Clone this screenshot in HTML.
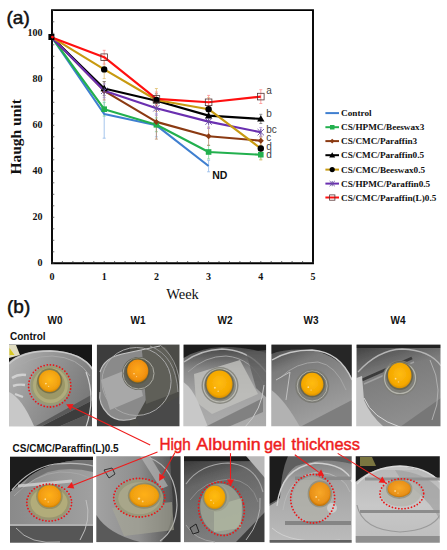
<!DOCTYPE html>
<html><head><meta charset="utf-8">
<style>
html,body{margin:0;padding:0;background:#fff;}
body{width:447px;height:550px;position:relative;overflow:hidden;}
svg text{font-family:"Liberation Serif",serif;}
.tl{font-family:"Liberation Serif",serif;font-weight:bold;font-size:10px;fill:#111;}
.lg{font-family:"Liberation Serif",serif;font-weight:bold;font-size:9.2px;fill:#111;}
.wk{font-family:"Liberation Serif",serif;font-size:14.5px;fill:#111;}
.hu{font-family:"Liberation Serif",serif;font-weight:bold;font-size:15.5px;fill:#111;}
.lt{font-family:"Liberation Sans",sans-serif;font-size:10px;fill:#404040;}
.nd{font-family:"Liberation Sans",sans-serif;font-weight:bold;font-size:10.5px;fill:#111;}
.pl{font-family:"Liberation Sans",sans-serif;font-size:19px;fill:#111;stroke:#111;stroke-width:0.5px;}
.abs{position:absolute;}
.hd{font-family:"Liberation Sans",sans-serif;font-weight:bold;font-size:10px;fill:#111;}
.ha{font-family:"Liberation Sans",sans-serif;font-size:16.5px;fill:#ee1c1c;stroke:#ee1c1c;stroke-width:0.45px;}
</style></head><body>
<svg class="abs" style="left:0;top:0" width="447" height="300" viewBox="0 0 447 300">
<path d="M52 10.1H313V263.3H52Z" fill="none" stroke="#000" stroke-width="1.9"/>
<path d="M52 263.3h2.3" stroke="#333" stroke-width="0.7"/>
<path d="M52 251.8h2.3" stroke="#333" stroke-width="0.7"/>
<path d="M52 240.3h2.3" stroke="#333" stroke-width="0.7"/>
<path d="M52 228.8h2.3" stroke="#333" stroke-width="0.7"/>
<path d="M52 217.3h2.3" stroke="#333" stroke-width="0.7"/>
<path d="M52 205.8h2.3" stroke="#333" stroke-width="0.7"/>
<path d="M52 194.3h2.3" stroke="#333" stroke-width="0.7"/>
<path d="M52 182.8h2.3" stroke="#333" stroke-width="0.7"/>
<path d="M52 171.3h2.3" stroke="#333" stroke-width="0.7"/>
<path d="M52 159.8h2.3" stroke="#333" stroke-width="0.7"/>
<path d="M52 148.3h2.3" stroke="#333" stroke-width="0.7"/>
<path d="M52 136.8h2.3" stroke="#333" stroke-width="0.7"/>
<path d="M52 125.3h2.3" stroke="#333" stroke-width="0.7"/>
<path d="M52 113.8h2.3" stroke="#333" stroke-width="0.7"/>
<path d="M52 102.3h2.3" stroke="#333" stroke-width="0.7"/>
<path d="M52 90.8h2.3" stroke="#333" stroke-width="0.7"/>
<path d="M52 79.3h2.3" stroke="#333" stroke-width="0.7"/>
<path d="M52 67.8h2.3" stroke="#333" stroke-width="0.7"/>
<path d="M52 56.3h2.3" stroke="#333" stroke-width="0.7"/>
<path d="M52 44.8h2.3" stroke="#333" stroke-width="0.7"/>
<path d="M52 33.3h2.3" stroke="#333" stroke-width="0.7"/>
<path d="M52 21.8h2.3" stroke="#333" stroke-width="0.7"/>
<path d="M52 10.3h2.3" stroke="#333" stroke-width="0.7"/>
<path d="M52.0 263.3v-2.3" stroke="#333" stroke-width="0.7"/>
<path d="M62.4 263.3v-2.3" stroke="#333" stroke-width="0.7"/>
<path d="M72.9 263.3v-2.3" stroke="#333" stroke-width="0.7"/>
<path d="M83.3 263.3v-2.3" stroke="#333" stroke-width="0.7"/>
<path d="M93.8 263.3v-2.3" stroke="#333" stroke-width="0.7"/>
<path d="M104.2 263.3v-2.3" stroke="#333" stroke-width="0.7"/>
<path d="M114.6 263.3v-2.3" stroke="#333" stroke-width="0.7"/>
<path d="M125.1 263.3v-2.3" stroke="#333" stroke-width="0.7"/>
<path d="M135.5 263.3v-2.3" stroke="#333" stroke-width="0.7"/>
<path d="M146.0 263.3v-2.3" stroke="#333" stroke-width="0.7"/>
<path d="M156.4 263.3v-2.3" stroke="#333" stroke-width="0.7"/>
<path d="M166.8 263.3v-2.3" stroke="#333" stroke-width="0.7"/>
<path d="M177.3 263.3v-2.3" stroke="#333" stroke-width="0.7"/>
<path d="M187.7 263.3v-2.3" stroke="#333" stroke-width="0.7"/>
<path d="M198.2 263.3v-2.3" stroke="#333" stroke-width="0.7"/>
<path d="M208.6 263.3v-2.3" stroke="#333" stroke-width="0.7"/>
<path d="M219.0 263.3v-2.3" stroke="#333" stroke-width="0.7"/>
<path d="M229.5 263.3v-2.3" stroke="#333" stroke-width="0.7"/>
<path d="M239.9 263.3v-2.3" stroke="#333" stroke-width="0.7"/>
<path d="M250.4 263.3v-2.3" stroke="#333" stroke-width="0.7"/>
<path d="M260.8 263.3v-2.3" stroke="#333" stroke-width="0.7"/>
<path d="M271.2 263.3v-2.3" stroke="#333" stroke-width="0.7"/>
<path d="M281.7 263.3v-2.3" stroke="#333" stroke-width="0.7"/>
<path d="M292.1 263.3v-2.3" stroke="#333" stroke-width="0.7"/>
<path d="M302.6 263.3v-2.3" stroke="#333" stroke-width="0.7"/>
<path d="M313.0 263.3v-2.3" stroke="#333" stroke-width="0.7"/>
<text x="42.4" y="266.1" text-anchor="end" class="tl">0</text>
<text x="42.4" y="220.1" text-anchor="end" class="tl">20</text>
<text x="42.4" y="174.1" text-anchor="end" class="tl">40</text>
<text x="42.4" y="128.1" text-anchor="end" class="tl">60</text>
<text x="42.4" y="82.1" text-anchor="end" class="tl">80</text>
<text x="42.4" y="36.1" text-anchor="end" class="tl">100</text>
<text x="52.0" y="279.6" text-anchor="middle" class="tl">0</text>
<text x="104.2" y="279.6" text-anchor="middle" class="tl">1</text>
<text x="156.4" y="279.6" text-anchor="middle" class="tl">2</text>
<text x="208.6" y="279.6" text-anchor="middle" class="tl">3</text>
<text x="260.8" y="279.6" text-anchor="middle" class="tl">4</text>
<text x="313.0" y="279.6" text-anchor="middle" class="tl">5</text>
<path d="M104.2 89.9V138.2M102.7 89.9h3M102.7 138.2h3" stroke="#8fb8e8" stroke-width="0.8" fill="none"/>
<path d="M156.4 113.8V136.8M154.9 113.8h3M154.9 136.8h3" stroke="#8fb8e8" stroke-width="0.8" fill="none"/>
<path d="M208.6 160.3V171.8M207.1 160.3h3M207.1 171.8h3" stroke="#8fb8e8" stroke-width="0.8" fill="none"/>
<path d="M104.2 102.3V116.1M102.7 102.3h3M102.7 116.1h3" stroke="#7fd39a" stroke-width="0.8" fill="none"/>
<path d="M156.4 117.9V131.7M154.9 117.9h3M154.9 131.7h3" stroke="#7fd39a" stroke-width="0.8" fill="none"/>
<path d="M208.6 145.1V158.9M207.1 145.1h3M207.1 158.9h3" stroke="#7fd39a" stroke-width="0.8" fill="none"/>
<path d="M260.8 150.1V159.3M259.3 150.1h3M259.3 159.3h3" stroke="#7fd39a" stroke-width="0.8" fill="none"/>
<path d="M104.2 81.6V100.0M102.7 81.6h3M102.7 100.0h3" stroke="#b98a6a" stroke-width="0.8" fill="none"/>
<path d="M156.4 104.6V139.1M154.9 104.6h3M154.9 139.1h3" stroke="#b98a6a" stroke-width="0.8" fill="none"/>
<path d="M208.6 127.1V145.5M207.1 127.1h3M207.1 145.5h3" stroke="#b98a6a" stroke-width="0.8" fill="none"/>
<path d="M260.8 136.1V145.3M259.3 136.1h3M259.3 145.3h3" stroke="#b98a6a" stroke-width="0.8" fill="none"/>
<path d="M104.2 81.6V95.4M102.7 81.6h3M102.7 95.4h3" stroke="#777777" stroke-width="0.8" fill="none"/>
<path d="M156.4 93.8V107.6M154.9 93.8h3M154.9 107.6h3" stroke="#777777" stroke-width="0.8" fill="none"/>
<path d="M208.6 108.7V122.5M207.1 108.7h3M207.1 122.5h3" stroke="#777777" stroke-width="0.8" fill="none"/>
<path d="M260.8 114.3V123.5M259.3 114.3h3M259.3 123.5h3" stroke="#777777" stroke-width="0.8" fill="none"/>
<path d="M104.2 60.2V78.6M102.7 60.2h3M102.7 78.6h3" stroke="#e0c070" stroke-width="0.8" fill="none"/>
<path d="M156.4 88.5V111.5M154.9 88.5h3M154.9 111.5h3" stroke="#e0c070" stroke-width="0.8" fill="none"/>
<path d="M208.6 97.7V120.7M207.1 97.7h3M207.1 120.7h3" stroke="#e0c070" stroke-width="0.8" fill="none"/>
<path d="M260.8 137.0V160.0M259.3 137.0h3M259.3 160.0h3" stroke="#e0c070" stroke-width="0.8" fill="none"/>
<path d="M104.2 83.9V97.7M102.7 83.9h3M102.7 97.7h3" stroke="#a98ad0" stroke-width="0.8" fill="none"/>
<path d="M156.4 101.4V115.2M154.9 101.4h3M154.9 115.2h3" stroke="#a98ad0" stroke-width="0.8" fill="none"/>
<path d="M208.6 114.7V128.5M207.1 114.7h3M207.1 128.5h3" stroke="#a98ad0" stroke-width="0.8" fill="none"/>
<path d="M260.8 127.6V136.8M259.3 127.6h3M259.3 136.8h3" stroke="#a98ad0" stroke-width="0.8" fill="none"/>
<path d="M104.2 50.3V64.1M102.7 50.3h3M102.7 64.1h3" stroke="#ff9090" stroke-width="0.8" fill="none"/>
<path d="M156.4 92.0V105.8M154.9 92.0h3M154.9 105.8h3" stroke="#ff9090" stroke-width="0.8" fill="none"/>
<path d="M208.6 95.4V109.2M207.1 95.4h3M207.1 109.2h3" stroke="#ff9090" stroke-width="0.8" fill="none"/>
<path d="M260.8 89.7V103.5M259.3 89.7h3M259.3 103.5h3" stroke="#ff9090" stroke-width="0.8" fill="none"/>
<polyline points="52.0,37.4 104.2,114.0 156.4,125.3 208.6,166.0" fill="none" stroke="#3f7fd0" stroke-width="2.15" stroke-linejoin="round"/>
<polyline points="52.0,37.4 104.2,109.2 156.4,124.8 208.6,152.0 260.8,154.7" fill="none" stroke="#22b04e" stroke-width="2.15" stroke-linejoin="round"/>
<polyline points="52.0,37.4 104.2,90.8 156.4,121.9 208.6,136.3 260.8,140.7" fill="none" stroke="#8b3a12" stroke-width="2.15" stroke-linejoin="round"/>
<polyline points="52.0,37.4 104.2,88.5 156.4,100.7 208.6,115.6 260.8,118.9" fill="none" stroke="#000000" stroke-width="2.15" stroke-linejoin="round"/>
<polyline points="52.0,37.4 104.2,90.8 156.4,108.3 208.6,121.6 260.8,132.2" fill="none" stroke="#6a2fb0" stroke-width="2.15" stroke-linejoin="round"/>
<polyline points="52.0,37.4 104.2,69.4 156.4,100.0 208.6,109.2 260.8,148.5" fill="none" stroke="#c89a10" stroke-width="2.15" stroke-linejoin="round"/>
<polyline points="52.0,37.4 104.2,57.2 156.4,98.9 208.6,102.3 260.8,96.6" fill="none" stroke="#ff1010" stroke-width="2.15" stroke-linejoin="round"/>



<rect x="101.4" y="106.4" width="5.6" height="5.6" fill="#22b04e"/>
<rect x="153.6" y="122.0" width="5.6" height="5.6" fill="#22b04e"/>
<rect x="205.8" y="149.2" width="5.6" height="5.6" fill="#22b04e"/>
<rect x="258.0" y="151.9" width="5.6" height="5.6" fill="#22b04e"/>
<path d="M104.2 87.8L107.2 90.8L104.2 93.8L101.2 90.8Z" fill="#8b3a12"/>
<path d="M156.4 118.9L159.4 121.9L156.4 124.9L153.4 121.9Z" fill="#8b3a12"/>
<path d="M208.6 133.3L211.6 136.3L208.6 139.3L205.6 136.3Z" fill="#8b3a12"/>
<path d="M260.8 137.7L263.8 140.7L260.8 143.7L257.8 140.7Z" fill="#8b3a12"/>
<path d="M104.2 84.8L107.9 91.3L100.5 91.3Z" fill="#000000"/>
<path d="M156.4 97.0L160.1 103.5L152.7 103.5Z" fill="#000000"/>
<path d="M208.6 111.9L212.3 118.4L204.9 118.4Z" fill="#000000"/>
<path d="M260.8 115.2L264.5 121.6L257.1 121.6Z" fill="#000000"/>
<path d="M101.0 87.6L107.4 94.0M101.0 94.0L107.4 87.6M104.2 87.6L104.2 94.0" stroke="#6a50a0" stroke-width="0.9" fill="none"/>
<path d="M153.2 105.1L159.6 111.5M153.2 111.5L159.6 105.1M156.4 105.1L156.4 111.5" stroke="#6a50a0" stroke-width="0.9" fill="none"/>
<path d="M205.4 118.4L211.8 124.8M205.4 124.8L211.8 118.4M208.6 118.4L208.6 124.8" stroke="#6a50a0" stroke-width="0.9" fill="none"/>
<path d="M257.6 129.0L264.0 135.4M257.6 135.4L264.0 129.0M260.8 129.0L260.8 135.4" stroke="#6a50a0" stroke-width="0.9" fill="none"/>
<circle cx="104.2" cy="69.4" r="3.2" fill="#000"/>
<circle cx="156.4" cy="100.0" r="3.2" fill="#000"/>
<circle cx="208.6" cy="109.2" r="3.2" fill="#000"/>
<circle cx="260.8" cy="148.5" r="3.2" fill="#000"/>
<rect x="100.9" y="53.9" width="6.6" height="6.6" fill="none" stroke="#553333" stroke-width="0.8"/>
<rect x="153.1" y="95.6" width="6.6" height="6.6" fill="none" stroke="#553333" stroke-width="0.8"/>
<rect x="205.3" y="99.0" width="6.6" height="6.6" fill="none" stroke="#553333" stroke-width="0.8"/>
<rect x="257.5" y="93.3" width="6.6" height="6.6" fill="none" stroke="#553333" stroke-width="0.8"/>
<rect x="48.4" y="34" width="6" height="6" fill="#000"/>
<circle cx="52.4" cy="37.1" r="1.4" fill="#ff1010"/>
<text x="266.2" y="93.9" class="lt">a</text>
<text x="266.2" y="117.2" class="lt">b</text>
<text x="266.2" y="132.9" class="lt">bc</text>
<text x="266.2" y="141.2" class="lt">c</text>
<text x="266.2" y="149.9" class="lt">d</text>
<text x="266.2" y="157.7" class="lt">d</text>
<text x="212.2" y="179" class="nd">ND</text>
<text x="182.5" y="298.6" text-anchor="middle" class="wk">Week</text>
<text transform="translate(21.2 136.9) rotate(-90)" text-anchor="middle" class="hu">Haugh unit</text>
<text x="6.5" y="24" class="pl">(a)</text>
<path d="M325.4 113.1H339" stroke="#3f7fd0" stroke-width="2"/>
<text x="341.1" y="116.1" class="lg">Control</text>
<path d="M325.4 127.2H339" stroke="#22b04e" stroke-width="2"/>
<rect x="330.0" y="125.0" width="4.5" height="4.5" fill="#22b04e"/>
<text x="341.1" y="130.2" class="lg">CS/HPMC/Beeswax3</text>
<path d="M325.4 141.1H339" stroke="#8b3a12" stroke-width="2"/>
<path d="M332.2 138.7L334.6 141.1L332.2 143.5L329.8 141.1Z" fill="#8b3a12"/>
<text x="341.1" y="144.1" class="lg">CS/CMC/Paraffin3</text>
<path d="M325.4 155.2H339" stroke="#000000" stroke-width="2"/>
<path d="M332.2 152.2L335.2 157.4L329.2 157.4Z" fill="#000000"/>
<text x="341.1" y="158.2" class="lg">CS/CMC/Paraffin0.5</text>
<path d="M325.4 169.6H339" stroke="#c89a10" stroke-width="2"/>
<circle cx="332.2" cy="169.6" r="2.6" fill="#000"/>
<text x="341.1" y="172.6" class="lg">CS/CMC/Beeswax0.5</text>
<path d="M325.4 183.6H339" stroke="#6a2fb0" stroke-width="2"/>
<path d="M329.6 181.0L334.8 186.2M329.6 186.2L334.8 181.0M332.2 181.0L332.2 186.2" stroke="#6a50a0" stroke-width="0.9" fill="none"/>
<text x="341.1" y="186.6" class="lg">CS/HPMC/Paraffin0.5</text>
<path d="M325.4 197.5H339" stroke="#ff1010" stroke-width="2"/>
<rect x="329.6" y="194.9" width="5.3" height="5.3" fill="none" stroke="#553333" stroke-width="0.8"/>
<text x="341.1" y="200.5" class="lg">CS/CMC/Paraffin(L)0.5</text>
</svg>
<svg class="abs" style="left:0;top:300px" width="447" height="250" viewBox="0 300 447 250"><filter id="soft" x="-5%" y="-5%" width="110%" height="110%"><feGaussianBlur stdDeviation="0.7"/></filter><clipPath id="ct1"><rect x="9" y="344.4" width="83.0" height="81.8"/></clipPath><g clip-path="url(#ct1)"><g filter="url(#soft)"><rect x="9" y="344.4" width="84" height="83" fill="#8c8c8c"/><linearGradient id="g1" x1="0" y1="0" x2="1" y2="0.5"><stop offset="0" stop-color="#b4b4b4"/><stop offset="0.5" stop-color="#959595"/><stop offset="1" stop-color="#7a7a7a"/></linearGradient><rect x="9" y="344.4" width="84" height="83" fill="url(#g1)"/><path d="M9 344.4H93V368Q82 352 50 350Q22 350 9 362Z" fill="#141414"/><path d="M9 364Q22 351 50 351Q82 352 93 370" stroke="#c8c8c8" stroke-width="1.5" fill="none"/><path d="M12 372Q28 356 52 356Q78 357 90 376" stroke="#a8a8a8" stroke-width="1" fill="none"/><path d="M9 345h7l4 10l-11 3z" fill="#e0dcc0"/><path d="M9.5 348l5 7h-5z" fill="#d8c820"/><path d="M9 392Q22 398 34 426H9Z" fill="#c8c8c8"/><path d="M12 378q6 -4 14 -3M13 386q6 -2 12 -1M15 394l8 3" stroke="#dcdcdc" stroke-width="2.4" fill="none" opacity="0.8"/><path d="M40 427L93 400V412L58 427Z" fill="#3e3e3e"/><path d="M34 427L93 394V400L40 427Z" fill="#5a5a5a"/><path d="M58 427L93 412V427Z" fill="#585858"/><path d="M86 372Q96 398 86 427" stroke="#d0d0d0" stroke-width="1.2" fill="none"/><circle cx="50.5" cy="385.5" r="20" fill="#9a9a74"/><circle cx="50.5" cy="385.5" r="17.5" fill="#b0ac7c"/><circle cx="50.5" cy="385" r="14.5" fill="#9c9868"/><radialGradient id="yt1" cx="0.5" cy="0.45" r="0.55"><stop offset="0" stop-color="#ffb818"/><stop offset="0.8" stop-color="#f0a010"/><stop offset="1" stop-color="#d88800"/></radialGradient><ellipse cx="49.7" cy="380.9" rx="12.6" ry="12.6" fill="#5a5430" opacity="0.55"/><ellipse cx="49.7" cy="380.9" rx="11" ry="11" fill="url(#yt1)"/><circle cx="45.9" cy="383.6" r="0.9" fill="#ffe8b0" opacity="0.8"/><circle cx="48.6" cy="386.4" r="0.7" fill="#ffe8b0" opacity="0.7"/></g></g><clipPath id="ct2"><rect x="96.7" y="344.4" width="82.8" height="81.8"/></clipPath><g clip-path="url(#ct2)"><g filter="url(#soft)"><rect x="96.7" y="344.4" width="84" height="83" fill="#3e3e3e"/><path d="M130 344.4H181V427H130Z" fill="#4c4c46"/><path d="M100 372Q104 358 122 354L142 350Q150 380 146 400L136 418Q118 424 108 414Q98 404 100 390Z" fill="#8a8a8a"/><path d="M101 380L136 366L143 396L110 410Z" fill="#a8a8a8"/><path d="M142 350L165 347Q176 360 178 392L146 404Z" fill="#5e5e58"/><path d="M100 372Q104 358 122 354L160 346" stroke="#c4c4c4" stroke-width="1.2" fill="none"/><path d="M136 418L180 396V427H140Z" fill="#484848"/><path d="M100 392Q98 404 108 414Q118 424 136 418" stroke="#c0c0c0" stroke-width="1.1" fill="none"/><ellipse cx="136.5" cy="381.5" rx="34.6" ry="34" fill="none" stroke="#a8a8a8" stroke-width="1"/><path d="M150 346Q176 356 178 392M160 345Q183 362 180 404" stroke="#9a9a9a" stroke-width="0.9" fill="none"/><circle cx="138.5" cy="373.5" r="16.5" fill="#62625a"/><circle cx="138.5" cy="373.5" r="15.5" fill="none" stroke="#aaaaa2" stroke-width="1"/><radialGradient id="yt2" cx="0.5" cy="0.45" r="0.55"><stop offset="0" stop-color="#ffa818"/><stop offset="0.8" stop-color="#f09010"/><stop offset="1" stop-color="#c87800"/></radialGradient><ellipse cx="137.7" cy="370.9" rx="12.2" ry="13.1" fill="#5a5430" opacity="0.55"/><ellipse cx="137.7" cy="370.9" rx="10.6" ry="11.5" fill="url(#yt2)"/><circle cx="134.0" cy="373.8" r="0.8" fill="#ffe8b0" opacity="0.8"/><circle cx="136.6" cy="376.6" r="0.6" fill="#ffe8b0" opacity="0.7"/></g></g><clipPath id="ct3"><rect x="183.4" y="344.4" width="82.7" height="81.8"/></clipPath><g clip-path="url(#ct3)"><g filter="url(#soft)"><rect x="183.4" y="344.4" width="84" height="83" fill="#9a9a9a"/><linearGradient id="g3" x1="0" y1="0" x2="0" y2="1"><stop offset="0.05" stop-color="#4a4a4a"/><stop offset="0.3" stop-color="#888888"/><stop offset="0.6" stop-color="#a4a4a4"/><stop offset="1" stop-color="#acacac"/></linearGradient><rect x="183.4" y="344.4" width="84" height="83" fill="url(#g3)"/><path d="M183.4 344.4H267V353Q240 346 222 347Q200 348 183.4 358Z" fill="#1e1e1e"/><path d="M184 362Q200 350 222 349Q250 350 266 372" stroke="#b8b8b8" stroke-width="1.4" fill="none"/><path d="M188 372Q205 356 226 356Q252 358 264 385" stroke="#a0a0a0" stroke-width="1" fill="none"/><path d="M246 352L267 350V398L256 388Z" fill="#5a5a5a" opacity="0.7"/><path d="M194 374L240 360L258 394L212 414L196 402Z" fill="#c2c2be" opacity="0.8"/><path d="M183.4 382Q192 388 198 402L208 427H183.4Z" fill="#c8c8c8"/><path d="M205 427L263 398V412L228 427Z" fill="#7c7c7c" opacity="0.9"/><path d="M245 427Q262 410 264 385" stroke="#c8c8c8" stroke-width="1" fill="none"/><circle cx="220" cy="385.5" r="18.5" fill="#8a8a82"/><circle cx="220" cy="385.5" r="16.5" fill="none" stroke="#bcbcb4" stroke-width="1.2"/><radialGradient id="yt3" cx="0.5" cy="0.45" r="0.55"><stop offset="0" stop-color="#ffbc10"/><stop offset="0.8" stop-color="#f5a800"/><stop offset="1" stop-color="#d89000"/></radialGradient><ellipse cx="219.5" cy="384.3" rx="14.6" ry="15.4" fill="#5a5430" opacity="0.55"/><ellipse cx="219.5" cy="384.3" rx="13" ry="13.8" fill="url(#yt3)"/><circle cx="214.9" cy="387.8" r="1.0" fill="#ffe8b0" opacity="0.8"/><circle cx="218.2" cy="391.2" r="0.8" fill="#ffe8b0" opacity="0.7"/></g></g><clipPath id="ct4"><rect x="271.3" y="344.4" width="80.5" height="81.8"/></clipPath><g clip-path="url(#ct4)"><g filter="url(#soft)"><rect x="271.3" y="344.4" width="81" height="83" fill="#888"/><linearGradient id="g4" x1="0" y1="0" x2="0.4" y2="1"><stop offset="0" stop-color="#404040"/><stop offset="0.3" stop-color="#7a7a7a"/><stop offset="0.7" stop-color="#909090"/><stop offset="1" stop-color="#a0a0a0"/></linearGradient><rect x="271.3" y="344.4" width="81" height="83" fill="url(#g4)"/><path d="M271.3 344.4H352V378Q340 356 312 350Q285 348 271.3 354Z" fill="#262626"/><path d="M272 360Q288 350 312 350Q340 352 352 380" stroke="#c8c8c8" stroke-width="1.4" fill="none"/><path d="M280 378Q296 362 318 362Q336 365 346 390" stroke="#a8a8a8" stroke-width="0.9" fill="none"/><path d="M271.3 390Q285 400 300 427H271.3Z" fill="#b2b2b2"/><path d="M300 427L352 400V427Z" fill="#7e7e7e"/><path d="M276 380L290 372L286 400" stroke="#c0c0c0" stroke-width="1" fill="none"/><circle cx="312.2" cy="386" r="17" fill="#7c7c76"/><circle cx="312.2" cy="386" r="15" fill="none" stroke="#b0b0a8" stroke-width="1"/><radialGradient id="yt4" cx="0.5" cy="0.45" r="0.55"><stop offset="0" stop-color="#ffbc10"/><stop offset="0.8" stop-color="#f5a800"/><stop offset="1" stop-color="#d89000"/></radialGradient><ellipse cx="312.2" cy="384.3" rx="12.8" ry="13.1" fill="#5a5430" opacity="0.55"/><ellipse cx="312.2" cy="384.3" rx="11.2" ry="11.5" fill="url(#yt4)"/><circle cx="308.3" cy="387.2" r="0.9" fill="#ffe8b0" opacity="0.8"/><circle cx="311.1" cy="390.1" r="0.7" fill="#ffe8b0" opacity="0.7"/></g></g><clipPath id="ct5"><rect x="356.4" y="344.4" width="84.1" height="81.8"/></clipPath><g clip-path="url(#ct5)"><g filter="url(#soft)"><rect x="356.4" y="344.4" width="85" height="83" fill="#8a8a8a"/><linearGradient id="g5" x1="0" y1="0" x2="0.3" y2="1"><stop offset="0" stop-color="#3e3e3e"/><stop offset="0.4" stop-color="#7c7c7c"/><stop offset="1" stop-color="#8e8e8e"/></linearGradient><rect x="356.4" y="344.4" width="85" height="83" fill="url(#g5)"/><path d="M356.4 344.4H441V348H356.4Z" fill="#222"/><path d="M358 372Q378 350 402 349Q430 350 441 366" stroke="#b4b4b4" stroke-width="1.3" fill="none"/><path d="M362 380L412 358" stroke="#3a3a3a" stroke-width="3" fill="none"/><path d="M364 384L414 362" stroke="#a0a0a0" stroke-width="1.5" fill="none"/><path d="M356.4 378L362 376L364 400Q370 415 384 427H356.4Z" fill="#c8c8c8"/><path d="M364 398Q372 418 400 427" stroke="#d8d8d8" stroke-width="1" fill="none"/><path d="M400 427L441 398V427Z" fill="#727272" opacity="0.8"/><path d="M430 360Q445 390 432 420" stroke="#b0b0b0" stroke-width="1" fill="none"/><circle cx="400" cy="378" r="17.5" fill="#7e7e78"/><circle cx="400" cy="378" r="15.5" fill="none" stroke="#b4b4ac" stroke-width="1.2"/><radialGradient id="yt5" cx="0.5" cy="0.45" r="0.55"><stop offset="0" stop-color="#ffbc10"/><stop offset="0.8" stop-color="#f5a800"/><stop offset="1" stop-color="#d89000"/></radialGradient><ellipse cx="399.7" cy="375.5" rx="13.4" ry="14.4" fill="#5a5430" opacity="0.55"/><ellipse cx="399.7" cy="375.5" rx="11.8" ry="12.8" fill="url(#yt5)"/><circle cx="395.6" cy="378.7" r="0.9" fill="#ffe8b0" opacity="0.8"/><circle cx="398.5" cy="381.9" r="0.7" fill="#ffe8b0" opacity="0.7"/></g></g><clipPath id="cb1"><rect x="10" y="456.4" width="83.0" height="86.3"/></clipPath><g clip-path="url(#cb1)"><g filter="url(#soft)"><rect x="10" y="456.4" width="83" height="86" fill="#969696"/><linearGradient id="h1" x1="0" y1="0" x2="1" y2="0"><stop offset="0" stop-color="#8a8a8a"/><stop offset="1" stop-color="#a0a0a0"/></linearGradient><rect x="10" y="470" width="83" height="56" fill="url(#h1)"/><path d="M10 456.4H93V460H80Q50 462 30 476Q18 486 10 492Z" fill="#1c1c1c"/><path d="M30 476Q50 462 80 460H93V472Q70 466 48 472Q30 480 18 492Z" fill="#6a6a6a" opacity="0.8"/><path d="M12 490Q30 468 55 464Q80 462 93 466" stroke="#b8b8b8" stroke-width="1.2" fill="none"/><path d="M14 496Q34 474 60 472Q82 472 92 480" stroke="#a8a8a8" stroke-width="0.9" fill="none"/><path d="M18 486L72 481" stroke="#d8d8d8" stroke-width="3" fill="none" opacity="0.75"/><rect x="10" y="524" width="83" height="2" fill="#b0b0b0"/><rect x="10" y="526" width="83" height="17" fill="#565656"/><path d="M16 528Q30 545 60 542" stroke="#b0b0b0" stroke-width="1" fill="none"/><path d="M86 500Q92 520 80 540" stroke="#c0c0c0" stroke-width="1" fill="none"/><ellipse cx="49" cy="502.6" rx="21" ry="17.5" fill="#9a9670"/><ellipse cx="49" cy="502.6" rx="18.5" ry="15" fill="#b2ac7a"/><radialGradient id="yb1" cx="0.5" cy="0.45" r="0.55"><stop offset="0" stop-color="#ffb018"/><stop offset="0.8" stop-color="#f09a10"/><stop offset="1" stop-color="#d08000"/></radialGradient><ellipse cx="49.4" cy="496.4" rx="13.3" ry="12.7" fill="#5a5430" opacity="0.3"/><ellipse cx="49.4" cy="496.4" rx="11.7" ry="11.1" fill="url(#yb1)"/><circle cx="45.3" cy="499.2" r="0.9" fill="#ffe8b0" opacity="0.8"/><circle cx="48.2" cy="501.9" r="0.7" fill="#ffe8b0" opacity="0.7"/></g></g><clipPath id="cb2"><rect x="96.2" y="456.3" width="84.4" height="86.4"/></clipPath><g clip-path="url(#cb2)"><g filter="url(#soft)"><rect x="96.3" y="456.1" width="85" height="86" fill="#8a8a8a"/><linearGradient id="h2" x1="0" y1="0" x2="1" y2="0"><stop offset="0" stop-color="#a2a2a2"/><stop offset="0.5" stop-color="#8e8e8e"/><stop offset="0.85" stop-color="#5e5e5e"/><stop offset="1" stop-color="#404040"/></linearGradient><rect x="96.3" y="456.1" width="85" height="86" fill="url(#h2)"/><path d="M140 456.1H150L168 486L161 489Z" fill="#c0c0c0" opacity="0.6"/><path d="M170 456.1H181V542H162Q176 520 172 490Z" fill="#3c3c3c"/><path d="M150 458Q176 468 177 505Q176 530 160 541" stroke="#b4b4b4" stroke-width="1.2" fill="none"/><path d="M96.3 515Q108 534 140 542H96.3Z" fill="#5a5a5a"/><path d="M112 508L172 502L174 530L124 536Z" fill="#a8a898" opacity="0.6"/><path d="M104 470l8 -2l3 6l-6 4z" fill="none" stroke="#333" stroke-width="1"/><ellipse cx="139.3" cy="498.3" rx="24" ry="19" fill="#98987c"/><ellipse cx="139.3" cy="498.3" rx="21" ry="16" fill="#a8a68a"/><radialGradient id="yb2" cx="0.5" cy="0.45" r="0.55"><stop offset="0" stop-color="#ffb018"/><stop offset="0.8" stop-color="#f0a010"/><stop offset="1" stop-color="#d08000"/></radialGradient><ellipse cx="144.2" cy="495.7" rx="16.4" ry="13.0" fill="#5a5430" opacity="0.3"/><ellipse cx="144.2" cy="495.7" rx="14.8" ry="11.4" fill="url(#yb2)"/><circle cx="139.0" cy="498.6" r="1.2" fill="#ffe8b0" opacity="0.8"/><circle cx="142.7" cy="501.4" r="0.9" fill="#ffe8b0" opacity="0.7"/></g></g><clipPath id="cb3"><rect x="184" y="456.3" width="80.5" height="86.4"/></clipPath><g clip-path="url(#cb3)"><g filter="url(#soft)"><rect x="184" y="456.1" width="81" height="86" fill="#707070"/><linearGradient id="h3" x1="0" y1="0" x2="0.3" y2="1"><stop offset="0" stop-color="#333"/><stop offset="0.35" stop-color="#666"/><stop offset="1" stop-color="#7e7e7e"/></linearGradient><rect x="184" y="456.1" width="81" height="86" fill="url(#h3)"/><rect x="184" y="456.1" width="81" height="5" fill="#1a1a1a"/><path d="M246 456.1H265V478Z" fill="#b8b8b8"/><path d="M186 484Q200 464 228 463Q256 465 263 492" stroke="#a4a4a4" stroke-width="1.2" fill="none"/><path d="M190 500Q204 480 230 479Q252 481 258 502" stroke="#8c8c8c" stroke-width="1" fill="none"/><path d="M236 542L265 512V542Z" fill="#3e3e3e"/><path d="M246 540Q262 520 260 498" stroke="#b0b0b0" stroke-width="1" fill="none"/><path d="M186 525Q195 540 215 542" stroke="#a0a0a0" stroke-width="1" fill="none"/><ellipse cx="221.4" cy="508.8" rx="21" ry="25.5" transform="rotate(-12 221.4 508.8)" fill="#a0a696" opacity="0.8"/><path d="M214 506L242 498L241 528L214 532Z" fill="#b6bea6" opacity="0.6"/><circle cx="216" cy="498" r="13.5" fill="#9ea290"/><path d="M190 528l6 -4l3 8l-6 2z" fill="none" stroke="#222" stroke-width="1"/><radialGradient id="yb3" cx="0.5" cy="0.45" r="0.55"><stop offset="0" stop-color="#ffbc10"/><stop offset="0.8" stop-color="#f5a800"/><stop offset="1" stop-color="#d89000"/></radialGradient><ellipse cx="214.7" cy="497.3" rx="12.2" ry="13.1" fill="#5a5430" opacity="0.3"/><ellipse cx="214.7" cy="497.3" rx="10.6" ry="11.5" fill="url(#yb3)"/><circle cx="211.0" cy="500.2" r="0.8" fill="#ffe8b0" opacity="0.8"/><circle cx="213.6" cy="503.1" r="0.6" fill="#ffe8b0" opacity="0.7"/></g></g><clipPath id="cb4"><rect x="269.4" y="456.3" width="82.3" height="86.4"/></clipPath><g clip-path="url(#cb4)"><g filter="url(#soft)"><rect x="269.4" y="456" width="83" height="86" fill="#b0b0b0"/><linearGradient id="h4" x1="0" y1="0" x2="0" y2="1"><stop offset="0" stop-color="#7a7a7a"/><stop offset="0.3" stop-color="#a2a2a2"/><stop offset="1" stop-color="#bcbcbc"/></linearGradient><rect x="269.4" y="456" width="83" height="86" fill="url(#h4)"/><path d="M269.4 456H352V464Q322 456 296 466Q282 476 279 500L269.4 506Z" fill="#5e5e5e"/><path d="M269.4 456H288Q281 472 280 498L269.4 504Z" fill="#1e1e1e"/><path d="M277 506Q281 468 315 463Q346 464 352 482" stroke="#cfcfcf" stroke-width="1.3" fill="none"/><path d="M283 510Q288 476 318 472Q344 474 350 492" stroke="#b8b8b8" stroke-width="1" fill="none"/><rect x="295" y="476.5" width="56" height="3.5" fill="#8a8a8a"/><rect x="285" y="521" width="66" height="4" fill="#858585"/><path d="M272 528Q290 545 340 540" stroke="#d0d0d0" stroke-width="1" fill="none"/><rect x="269.4" y="540" width="83" height="3" fill="#606060"/><ellipse cx="312.7" cy="498.7" rx="20" ry="22.5" fill="#b0b0a8" opacity="0.7"/><circle cx="332" cy="508" r="5" fill="#d8d8d8" opacity="0.7"/><radialGradient id="yb4" cx="0.5" cy="0.45" r="0.55"><stop offset="0" stop-color="#f8a828"/><stop offset="0.8" stop-color="#e89018"/><stop offset="1" stop-color="#c07000"/></radialGradient><ellipse cx="319.9" cy="493.9" rx="12.3" ry="13.6" fill="#5a5430" opacity="0.3"/><ellipse cx="319.9" cy="493.9" rx="10.7" ry="12" fill="url(#yb4)"/><circle cx="316.2" cy="496.9" r="0.9" fill="#ffe8b0" opacity="0.8"/><circle cx="318.8" cy="499.9" r="0.6" fill="#ffe8b0" opacity="0.7"/></g></g><clipPath id="cb5"><rect x="355.5" y="456.3" width="84.3" height="86.4"/></clipPath><g clip-path="url(#cb5)"><g filter="url(#soft)"><rect x="355.5" y="456" width="85" height="86" fill="#c4c4c4"/><linearGradient id="h5" x1="0" y1="0" x2="0" y2="1"><stop offset="0" stop-color="#b8b8b8"/><stop offset="0.5" stop-color="#c8c8c8"/><stop offset="1" stop-color="#bdbdbd"/></linearGradient><rect x="355.5" y="470" width="85" height="72" fill="url(#h5)"/><path d="M355.5 456H440V480Q425 468 400 466Q372 467 355.5 482Z" fill="#1c1c1c"/><path d="M360 457h12l4 9h-16z" fill="#7a7440"/><path d="M357 484Q372 467 400 466Q426 467 440 482" stroke="#d8d8d8" stroke-width="1.3" fill="none"/><path d="M395 470Q425 472 440 490V520Q430 500 400 478Z" fill="#a0a0a0" opacity="0.7"/><rect x="365" y="477.5" width="75" height="3" fill="#929292"/><rect x="360" y="510" width="80" height="3" fill="#8c8c8c"/><path d="M357 505Q362 530 400 532Q432 530 440 515" stroke="#9a9a9a" stroke-width="1.2" fill="none"/><rect x="355.5" y="536" width="85" height="7" fill="#8e8e8e"/><ellipse cx="401" cy="493" rx="20" ry="13.5" fill="#b4b4ac" opacity="0.8"/><radialGradient id="yb5" cx="0.5" cy="0.45" r="0.55"><stop offset="0" stop-color="#f8a828"/><stop offset="0.8" stop-color="#e89018"/><stop offset="1" stop-color="#c07000"/></radialGradient><ellipse cx="399.2" cy="488.9" rx="13.2" ry="10.0" fill="#5a5430" opacity="0.3"/><ellipse cx="399.2" cy="488.9" rx="11.6" ry="8.4" fill="url(#yb5)"/><circle cx="395.1" cy="491.0" r="0.9" fill="#ffe8b0" opacity="0.8"/><circle cx="398.0" cy="493.1" r="0.7" fill="#ffe8b0" opacity="0.7"/></g></g><ellipse cx="49.7" cy="385.9" rx="21.1" ry="21.1" transform="rotate(0 49.7 385.9)" fill="none" stroke="#e81818" stroke-width="1.8" stroke-dasharray="0.01 3.2" stroke-linecap="round"/><ellipse cx="49.2" cy="502.6" rx="22.4" ry="18.5" transform="rotate(0 49.2 502.6)" fill="none" stroke="#e81818" stroke-width="1.8" stroke-dasharray="0.01 3.2" stroke-linecap="round"/><ellipse cx="139.3" cy="497.7" rx="25.6" ry="19.3" transform="rotate(0 139.3 497.7)" fill="none" stroke="#e81818" stroke-width="1.8" stroke-dasharray="0.01 3.2" stroke-linecap="round"/><ellipse cx="221.4" cy="508.8" rx="22.7" ry="26.9" transform="rotate(-12 221.4 508.8)" fill="none" stroke="#e81818" stroke-width="1.8" stroke-dasharray="0.01 3.2" stroke-linecap="round"/><ellipse cx="312.7" cy="498.7" rx="22" ry="24.3" transform="rotate(0 312.7 498.7)" fill="none" stroke="#e81818" stroke-width="1.8" stroke-dasharray="0.01 3.2" stroke-linecap="round"/><ellipse cx="401.8" cy="493.8" rx="21.9" ry="15" transform="rotate(0 401.8 493.8)" fill="none" stroke="#e81818" stroke-width="1.8" stroke-dasharray="0.01 3.2" stroke-linecap="round"/><path d="M150.2 445.0L72.0 407.1" stroke="#ee1c1c" stroke-width="1.1"/><path d="M66.2 404.3L73.6 404.0L70.5 410.3Z" fill="#ee1c1c"/><path d="M157.5 451.9L73.0 485.3" stroke="#ee1c1c" stroke-width="1.1"/><path d="M67.0 487.7L71.8 482.1L74.3 488.6Z" fill="#ee1c1c"/><path d="M175.0 452.5L162.4 475.3" stroke="#ee1c1c" stroke-width="1.1"/><path d="M159.2 481.0L159.3 473.6L165.4 477.0Z" fill="#ee1c1c"/><path d="M230.5 453.2L230.5 479.4" stroke="#ee1c1c" stroke-width="1.1"/><path d="M230.5 485.9L227.0 479.4L234.0 479.4Z" fill="#ee1c1c"/><path d="M294.8 454.8L319.0 472.4" stroke="#ee1c1c" stroke-width="1.1"/><path d="M324.3 476.2L317.0 475.2L321.1 469.6Z" fill="#ee1c1c"/><path d="M337.7 453.4L380.5 479.6" stroke="#ee1c1c" stroke-width="1.1"/><path d="M386.0 483.0L378.6 482.6L382.3 476.6Z" fill="#ee1c1c"/>
<text x="7" y="312.6" class="pl">(b)</text>
<text x="55" y="323.6" text-anchor="middle" class="hd">W0</text>
<text x="138" y="323.6" text-anchor="middle" class="hd">W1</text>
<text x="225" y="323.6" text-anchor="middle" class="hd">W2</text>
<text x="311" y="323.6" text-anchor="middle" class="hd">W3</text>
<text x="398" y="323.6" text-anchor="middle" class="hd">W4</text>
<text x="10" y="340" class="hd">Control</text>
<text x="12.5" y="452.2" class="hd">CS/CMC/Paraffin(L)0.5</text>
<text x="159.4" y="449.5" class="ha" textLength="31.5" lengthAdjust="spacingAndGlyphs">High</text><text x="196.3" y="449.5" class="ha" textLength="64.4" lengthAdjust="spacingAndGlyphs">Albumin</text><text x="264" y="449.5" class="ha" textLength="21.7" lengthAdjust="spacingAndGlyphs">gel</text><text x="291.6" y="449.5" class="ha" textLength="68.4" lengthAdjust="spacingAndGlyphs">thickness</text>
</svg>
</body></html>
